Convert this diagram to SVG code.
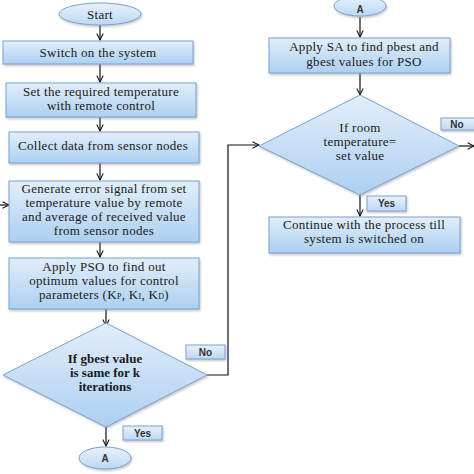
<svg xmlns="http://www.w3.org/2000/svg" width="474" height="474" viewBox="0 0 474 474">
<defs>
<linearGradient id="g" x1="0" y1="0" x2="0" y2="1">
<stop offset="0" stop-color="#e2eefa"/>
<stop offset="1" stop-color="#acd0f1"/>
</linearGradient>
<linearGradient id="lg" x1="0" y1="0" x2="0" y2="1">
<stop offset="0" stop-color="#e8f1fb"/>
<stop offset="1" stop-color="#bcd8f3"/>
</linearGradient>
<marker id="ah" viewBox="0 0 10 10" refX="9" refY="5" markerWidth="8" markerHeight="8" orient="auto" markerUnits="userSpaceOnUse">
<path d="M1,1 L9,5 L1,9" fill="none" stroke="#111" stroke-width="1.3"/>
</marker>
<filter id="sh" x="-5%" y="-5%" width="115%" height="125%">
<feDropShadow dx="1" dy="1.5" stdDeviation="0.8" flood-color="#888" flood-opacity="0.5"/>
</filter>
</defs>
<style>
.n{fill:url(#g);stroke:#7aa3cf;stroke-width:1;filter:url(#sh)}
.l{fill:url(#lg);stroke:#7aa3cf;stroke-width:1;filter:url(#sh)}
.t{font-family:'Liberation Serif','DejaVu Serif',serif;font-size:13px;letter-spacing:0.3px;fill:#1a1a1a;text-anchor:middle}
.b{font-weight:bold;letter-spacing:0}
.s{font-family:'Liberation Sans','DejaVu Sans',sans-serif;font-size:10px;font-weight:bold;fill:#333;text-anchor:middle}
.c{fill:none;stroke:#111;stroke-width:1.2}
</style>
<rect width="474" height="474" fill="#fff"/>

<g id="connectors">
<line class="c" x1="100" y1="25" x2="100" y2="40" marker-end="url(#ah)"/>
<line class="c" x1="100" y1="64" x2="100" y2="82" marker-end="url(#ah)"/>
<line class="c" x1="100" y1="117" x2="100" y2="131" marker-end="url(#ah)"/>
<line class="c" x1="100" y1="163" x2="100" y2="180" marker-end="url(#ah)"/>
<line class="c" x1="100" y1="242" x2="100" y2="257" marker-end="url(#ah)"/>
<line class="c" x1="106" y1="309" x2="106" y2="326" marker-end="url(#ah)"/>
<line class="c" x1="106" y1="427" x2="106" y2="446" marker-end="url(#ah)"/>
<polyline class="c" points="207,375 228,375 228,145 259,145" marker-end="url(#ah)"/>
<line class="c" x1="0" y1="205" x2="9" y2="205" marker-end="url(#ah)"/>
<line class="c" x1="360" y1="17" x2="360" y2="37" marker-end="url(#ah)"/>
<line class="c" x1="360" y1="73" x2="360" y2="95" marker-end="url(#ah)"/>
<line class="c" x1="459" y1="146" x2="474" y2="146" marker-end="url(#ah)"/>
<line class="c" x1="360" y1="195" x2="360" y2="216" marker-end="url(#ah)"/>
</g>

<g id="start">
<ellipse class="l" cx="100" cy="14" rx="41" ry="11"/>
<text class="t" x="100" y="18.5">Start</text>
</g>
<g id="switch">
<rect class="n" x="3" y="41" width="190" height="23"/>
<text class="t" x="98" y="57">Switch on the system</text>
</g>
<g id="settemp">
<rect class="n" x="6" y="83" width="190" height="34"/>
<text class="t" x="101" y="96">Set the required temperature</text>
<text class="t" x="101" y="110">with remote control</text>
</g>
<g id="collect">
<rect class="n" x="9" y="132" width="190" height="31"/>
<text class="t" x="103" y="150">Collect data from sensor nodes</text>
</g>
<g id="generate">
<rect class="n" x="9" y="181" width="190" height="61"/>
<text class="t" x="104" y="193">Generate error signal from set</text>
<text class="t" x="104" y="207">temperature  value by remote</text>
<text class="t" x="104" y="221">and average of received value</text>
<text class="t" x="104" y="235">from sensor nodes</text>
</g>
<g id="pso">
<rect class="n" x="9" y="258" width="190" height="51"/>
<text class="t" x="104" y="271">Apply PSO to find out</text>
<text class="t" x="104" y="285">optimum values for control</text>
<text class="t" x="104" y="299">parameters (K<tspan font-size="8">P</tspan>, K<tspan font-size="8">I</tspan>, K<tspan font-size="8">D</tspan>)</text>
</g>
<g id="gbest">
<polygon class="n" points="106,323 207,375 106,427 3,375"/>
<text class="t b" x="105" y="363">If gbest value</text>
<text class="t b" x="105" y="377">is same for k</text>
<text class="t b" x="105" y="391">iterations</text>
</g>
<g id="no1">
<rect class="l" x="186" y="345" width="39" height="14"/>
<text class="s" x="205.5" y="355.5">No</text>
</g>
<g id="yes1">
<rect class="l" x="123" y="426" width="39" height="14"/>
<text class="s" x="142.5" y="436.5">Yes</text>
</g>
<g id="a1">
<ellipse class="l" cx="105" cy="458" rx="26" ry="11"/>
<text class="s" x="105" y="462" font-weight="normal">A</text>
</g>

<g id="a2">
<ellipse class="l" cx="360" cy="6" rx="26" ry="10"/>
<text class="s" x="360" y="13" font-weight="normal">A</text>
</g>
<g id="sa">
<rect class="n" x="269" y="38" width="181" height="35"/>
<text class="t" x="364" y="51">Apply SA  to find pbest and</text>
<text class="t" x="364" y="66">gbest values for PSO</text>
</g>
<g id="roomtemp">
<polygon class="n" points="360,95 459,146 360,195 259,146"/>
<text class="t" x="360" y="132">If room</text>
<text class="t" x="360" y="146">temperature=</text>
<text class="t" x="360" y="160">set value</text>
</g>
<g id="no2">
<rect class="l" x="441" y="118" width="35" height="12"/>
<text class="s" x="457" y="127.5">No</text>
</g>
<g id="yes2">
<rect class="l" x="367" y="196" width="39" height="15"/>
<text class="s" x="386.5" y="207">Yes</text>
</g>
<g id="continue">
<rect class="n" x="269" y="217" width="191" height="36"/>
<text class="t" x="364" y="229">Continue with the process till</text>
<text class="t" x="364" y="243">system is switched on</text>
</g>
</svg>
